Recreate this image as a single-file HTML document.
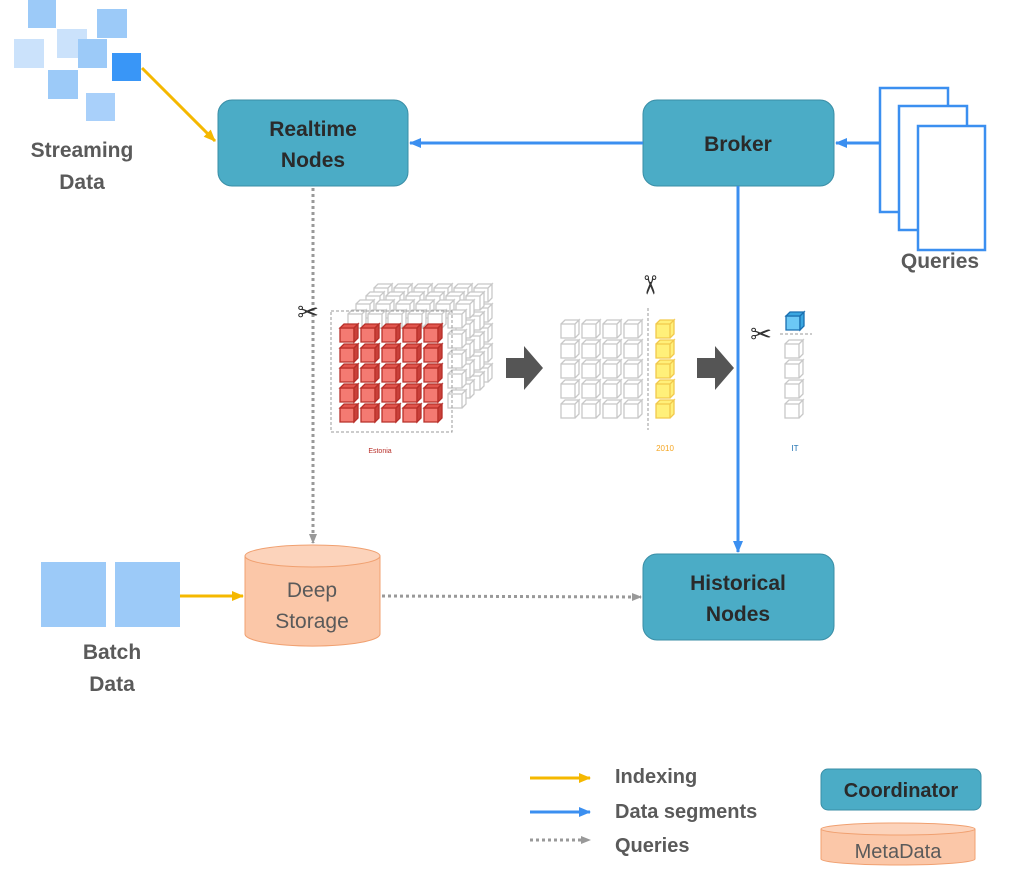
<!DOCTYPE html>
<html><head><meta charset="utf-8"><style>
body{margin:0;background:#fff;}
svg{display:block;font-family:"Liberation Sans",sans-serif;}
</style></head><body>
<svg width="1024" height="880" viewBox="0 0 1024 880" xmlns="http://www.w3.org/2000/svg">
<defs>
<marker id="ay" markerWidth="12" markerHeight="12" refX="11" refY="6" orient="auto" markerUnits="userSpaceOnUse"><path d="M0,1L12,6L0,11z" fill="#f5b800"/></marker>
<marker id="ab" markerWidth="12" markerHeight="12" refX="11" refY="6" orient="auto" markerUnits="userSpaceOnUse"><path d="M0,1L12,6L0,11z" fill="#3b8ff0"/></marker>
<marker id="ag" markerWidth="10" markerHeight="10" refX="9" refY="5" orient="auto" markerUnits="userSpaceOnUse"><path d="M0,1L10,5L0,9z" fill="#999"/></marker>
<g id="cw"><path d="M0,4h14v14h-14z M0,4l4,-4h14l-4,4 M14,4l4,-4v14l-4,4" fill="#fff" stroke="#c8c8c8" stroke-width="1.3"/></g>
<g id="cr"><path d="M0,4h14v14h-14z" fill="#f47a72" stroke="#b8302a" stroke-width="1.3"/><path d="M0,4l4,-4h14l-4,4z" fill="#e2554d" stroke="#b8302a" stroke-width="1.3"/><path d="M14,4l4,-4v14l-4,4z" fill="#c9403a" stroke="#b8302a" stroke-width="1.3"/></g>
<g id="cyl"><path d="M0,4h14v14h-14z M0,4l4,-4h14l-4,4 M14,4l4,-4v14l-4,4" fill="#fff07a" stroke="#f2c94c" stroke-width="1.3"/></g>
</defs>

<rect x="28" y="0" width="28" height="28" fill="#9ccaf8"/>
<rect x="97" y="9" width="30" height="29" fill="#9ccaf8"/>
<rect x="57" y="29" width="30" height="29" fill="#cbe2fb"/>
<rect x="14" y="39" width="30" height="29" fill="#cbe2fb"/>
<rect x="78" y="39" width="29" height="29" fill="#9ccaf8"/>
<rect x="112" y="53" width="29" height="28" fill="#3996f7"/>
<rect x="48" y="70" width="30" height="29" fill="#9ccaf8"/>
<rect x="86" y="93" width="29" height="28" fill="#a9d0fa"/>
<text x="82" y="157" text-anchor="middle" font-size="21" font-weight="bold" fill="#5a5a5a">Streaming</text>
<text x="82" y="189" text-anchor="middle" font-size="21" font-weight="bold" fill="#5a5a5a">Data</text>
<line x1="142" y1="68" x2="215" y2="141" stroke="#f5b800" stroke-width="3" marker-end="url(#ay)"/>

<rect x="218" y="100" width="190" height="86" rx="14" fill="#4bacc6" stroke="#3a8ea6"/>
<text x="313" y="136" text-anchor="middle" font-size="21" font-weight="bold" fill="#2a2a2a">Realtime</text>
<text x="313" y="167" text-anchor="middle" font-size="21" font-weight="bold" fill="#2a2a2a">Nodes</text>
<rect x="643" y="100" width="191" height="86" rx="14" fill="#4bacc6" stroke="#3a8ea6"/>
<text x="738" y="151" text-anchor="middle" font-size="21" font-weight="bold" fill="#2a2a2a">Broker</text>
<rect x="643" y="554" width="191" height="86" rx="14" fill="#4bacc6" stroke="#3a8ea6"/>
<text x="738" y="590" text-anchor="middle" font-size="21" font-weight="bold" fill="#2a2a2a">Historical</text>
<text x="738" y="621" text-anchor="middle" font-size="21" font-weight="bold" fill="#2a2a2a">Nodes</text>

<line x1="643" y1="143" x2="410" y2="143" stroke="#3b8ff0" stroke-width="3" marker-end="url(#ab)"/>
<line x1="880" y1="143" x2="836" y2="143" stroke="#3b8ff0" stroke-width="3" marker-end="url(#ab)"/>
<line x1="738" y1="186" x2="738" y2="552" stroke="#3b8ff0" stroke-width="3" marker-end="url(#ab)"/>
<line x1="313" y1="188" x2="313" y2="543" stroke="#999" stroke-width="3" stroke-dasharray="3,3" marker-end="url(#ag)"/>
<line x1="382" y1="596" x2="641" y2="597" stroke="#999" stroke-width="3" stroke-dasharray="3,3" marker-end="url(#ag)"/>

<rect x="880" y="88" width="68" height="124" fill="#fff" stroke="#3b8ff0" stroke-width="2.5"/>
<rect x="899" y="106" width="68" height="124" fill="#fff" stroke="#3b8ff0" stroke-width="2.5"/>
<rect x="918" y="126" width="67" height="124" fill="#fff" stroke="#3b8ff0" stroke-width="2.5"/>
<text x="940" y="268" text-anchor="middle" font-size="21" font-weight="bold" fill="#5a5a5a">Queries</text>

<path d="M245,556 v78 a67,12 0 0 0 135,0 v-78" fill="#fbc7a8" stroke="#f0a070"/>
<ellipse cx="312.5" cy="556" rx="67.5" ry="11" fill="#fcd3bb" stroke="#f0a070"/>
<text x="312" y="597" text-anchor="middle" font-size="21" fill="#5a5a5a">Deep</text>
<text x="312" y="628" text-anchor="middle" font-size="21" fill="#5a5a5a">Storage</text>

<rect x="41" y="562" width="65" height="65" fill="#9ccaf8"/>
<rect x="115" y="562" width="65" height="65" fill="#9ccaf8"/>
<line x1="180" y1="596" x2="243" y2="596" stroke="#f5b800" stroke-width="3" marker-end="url(#ay)"/>
<text x="112" y="659" text-anchor="middle" font-size="21" font-weight="bold" fill="#5a5a5a">Batch</text>
<text x="112" y="691" text-anchor="middle" font-size="21" font-weight="bold" fill="#5a5a5a">Data</text>

<g>
<use href="#cw" x="374" y="284"/><use href="#cw" x="394" y="284"/><use href="#cw" x="414" y="284"/><use href="#cw" x="434" y="284"/><use href="#cw" x="454" y="284"/><use href="#cw" x="474" y="284"/>
<use href="#cw" x="474" y="304"/><use href="#cw" x="474" y="324"/><use href="#cw" x="474" y="344"/><use href="#cw" x="474" y="364"/>
<use href="#cw" x="366" y="292"/><use href="#cw" x="386" y="292"/><use href="#cw" x="406" y="292"/><use href="#cw" x="426" y="292"/><use href="#cw" x="446" y="292"/><use href="#cw" x="466" y="292"/>
<use href="#cw" x="466" y="312"/><use href="#cw" x="466" y="332"/><use href="#cw" x="466" y="352"/><use href="#cw" x="466" y="372"/>
<use href="#cw" x="356" y="300"/><use href="#cw" x="376" y="300"/><use href="#cw" x="396" y="300"/><use href="#cw" x="416" y="300"/><use href="#cw" x="436" y="300"/><use href="#cw" x="456" y="300"/>
<use href="#cw" x="456" y="320"/><use href="#cw" x="456" y="340"/><use href="#cw" x="456" y="360"/><use href="#cw" x="456" y="380"/>
<use href="#cw" x="348" y="310"/><use href="#cw" x="368" y="310"/><use href="#cw" x="388" y="310"/><use href="#cw" x="408" y="310"/><use href="#cw" x="428" y="310"/><use href="#cw" x="448" y="310"/>
<use href="#cw" x="448" y="330"/><use href="#cw" x="448" y="350"/><use href="#cw" x="448" y="370"/><use href="#cw" x="448" y="390"/>
</g>
<rect x="331" y="311" width="121" height="121" fill="none" stroke="#999" stroke-dasharray="3,2"/>
<g>
<use href="#cr" x="340" y="324"/><use href="#cr" x="361" y="324"/><use href="#cr" x="382" y="324"/><use href="#cr" x="403" y="324"/><use href="#cr" x="424" y="324"/>
<use href="#cr" x="340" y="344"/><use href="#cr" x="361" y="344"/><use href="#cr" x="382" y="344"/><use href="#cr" x="403" y="344"/><use href="#cr" x="424" y="344"/>
<use href="#cr" x="340" y="364"/><use href="#cr" x="361" y="364"/><use href="#cr" x="382" y="364"/><use href="#cr" x="403" y="364"/><use href="#cr" x="424" y="364"/>
<use href="#cr" x="340" y="384"/><use href="#cr" x="361" y="384"/><use href="#cr" x="382" y="384"/><use href="#cr" x="403" y="384"/><use href="#cr" x="424" y="384"/>
<use href="#cr" x="340" y="404"/><use href="#cr" x="361" y="404"/><use href="#cr" x="382" y="404"/><use href="#cr" x="403" y="404"/><use href="#cr" x="424" y="404"/>
</g>
<text x="380" y="453" text-anchor="middle" font-size="7" fill="#b8302a">Estonia</text>
<text x="308" y="321" text-anchor="middle" font-size="26" fill="#333">✂</text>

<path d="M506,358h18v-12l19,22l-19,22v-12h-18z" fill="#555"/>
<path d="M697,358h18v-12l19,22l-19,22v-12h-18z" fill="#555"/>

<g>
<use href="#cw" x="561" y="320"/><use href="#cw" x="582" y="320"/><use href="#cw" x="603" y="320"/><use href="#cw" x="624" y="320"/>
<use href="#cw" x="561" y="340"/><use href="#cw" x="582" y="340"/><use href="#cw" x="603" y="340"/><use href="#cw" x="624" y="340"/>
<use href="#cw" x="561" y="360"/><use href="#cw" x="582" y="360"/><use href="#cw" x="603" y="360"/><use href="#cw" x="624" y="360"/>
<use href="#cw" x="561" y="380"/><use href="#cw" x="582" y="380"/><use href="#cw" x="603" y="380"/><use href="#cw" x="624" y="380"/>
<use href="#cw" x="561" y="400"/><use href="#cw" x="582" y="400"/><use href="#cw" x="603" y="400"/><use href="#cw" x="624" y="400"/>
<use href="#cyl" x="656" y="320"/><use href="#cyl" x="656" y="340"/><use href="#cyl" x="656" y="360"/><use href="#cyl" x="656" y="380"/><use href="#cyl" x="656" y="400"/>
</g>
<line x1="648" y1="308" x2="648" y2="430" stroke="#999" stroke-dasharray="3,2"/>
<text x="650" y="294" text-anchor="middle" font-size="26" fill="#333" transform="rotate(90 650 285)">✂</text>
<text x="665" y="451" text-anchor="middle" font-size="8" fill="#f5a623">2010</text>

<path d="M786,316h14v14h-14z" fill="#6cc8f5" stroke="#1a6fb0" stroke-width="1.3"/>
<path d="M786,316l4,-4h14l-4,4z M800,316l4,-4v14l-4,4z" fill="#3aa6e0" stroke="#1a6fb0" stroke-width="1.3"/>
<line x1="780" y1="334" x2="812" y2="334" stroke="#999" stroke-dasharray="3,2"/>
<use href="#cw" x="785" y="340"/><use href="#cw" x="785" y="360"/><use href="#cw" x="785" y="380"/><use href="#cw" x="785" y="400"/>
<text x="761" y="343" text-anchor="middle" font-size="26" fill="#333">✂</text>
<text x="795" y="451" text-anchor="middle" font-size="8" fill="#1a6fb0">IT</text>

<line x1="530" y1="778" x2="590" y2="778" stroke="#f5b800" stroke-width="3" marker-end="url(#ay)"/>
<line x1="530" y1="812" x2="590" y2="812" stroke="#3b8ff0" stroke-width="3" marker-end="url(#ab)"/>
<line x1="530" y1="840" x2="590" y2="840" stroke="#999" stroke-width="3" stroke-dasharray="3,3" marker-end="url(#ag)"/>
<text x="615" y="783" font-size="20" font-weight="bold" fill="#5a5a5a">Indexing</text>
<text x="615" y="818" font-size="20" font-weight="bold" fill="#5a5a5a">Data segments</text>
<text x="615" y="852" font-size="20" font-weight="bold" fill="#5a5a5a">Queries</text>
<rect x="821" y="769" width="160" height="41" rx="7" fill="#4bacc6" stroke="#3a8ea6"/>
<text x="901" y="797" text-anchor="middle" font-size="20" font-weight="bold" fill="#2a2a2a">Coordinator</text>
<path d="M821,829 v30 a77,6 0 0 0 154,0 v-30" fill="#fbc7a8" stroke="#f0a070"/>
<ellipse cx="898" cy="829" rx="77" ry="6" fill="#fcd3bb" stroke="#f0a070"/>
<text x="898" y="858" text-anchor="middle" font-size="20" fill="#5a5a5a">MetaData</text>
</svg>
</body></html>
